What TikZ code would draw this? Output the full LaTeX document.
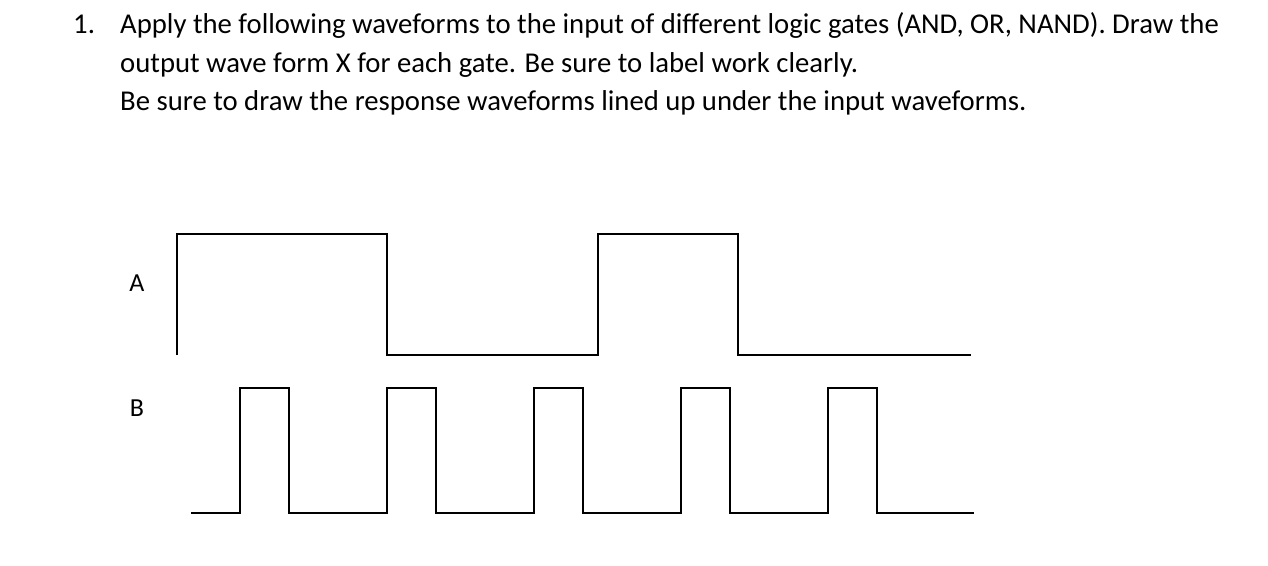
\documentclass[tikz,border=0pt]{standalone}
\usepackage{fontspec}
\setmainfont{Carlito}
\begin{document}
\begin{tikzpicture}[x=1pt,y=-1pt,wave/.style={line width=1.6pt,line join=miter},
 txt/.style={anchor=base west,inner sep=0pt,font=\fontsize{28.7}{32}\selectfont}]
\useasboundingbox (0,0) rectangle (1268,565);
\node[txt] (n) at (73,33) {1.};
\node[txt] (l1) at (120,33) {Apply the following waveforms to the input of different logic gates (AND, OR, NAND). Draw the};
\node[txt] (l2) at (120,72) {output wave form X for each gate. Be sure to label work clearly.};
\node[txt] (l3) at (120,110) {Be sure to draw the response waveforms lined up under the input waveforms.};
\node[font=\fontsize{26}{30}\selectfont,inner sep=0pt] (la) at (137,283) {A};
\node[font=\fontsize{26}{30}\selectfont,inner sep=0pt] (lb) at (137,408) {B};
\draw[wave] (177,355) -- (177,234) -- (387,234) -- (387,355) -- (598,355) -- (598,234) -- (738,234) -- (738,355) -- (971,355);
\draw[wave] (191,513) -- (240,513) -- (240,388) -- (289,388) -- (289,513)
 -- (387,513) -- (387,388) -- (436,388) -- (436,513)
 -- (534,513) -- (534,388) -- (583,388) -- (583,513)
 -- (681,513) -- (681,388) -- (730,388) -- (730,513)
 -- (828,513) -- (828,388) -- (877,388) -- (877,513) -- (974,513);
\end{tikzpicture}
\end{document}
